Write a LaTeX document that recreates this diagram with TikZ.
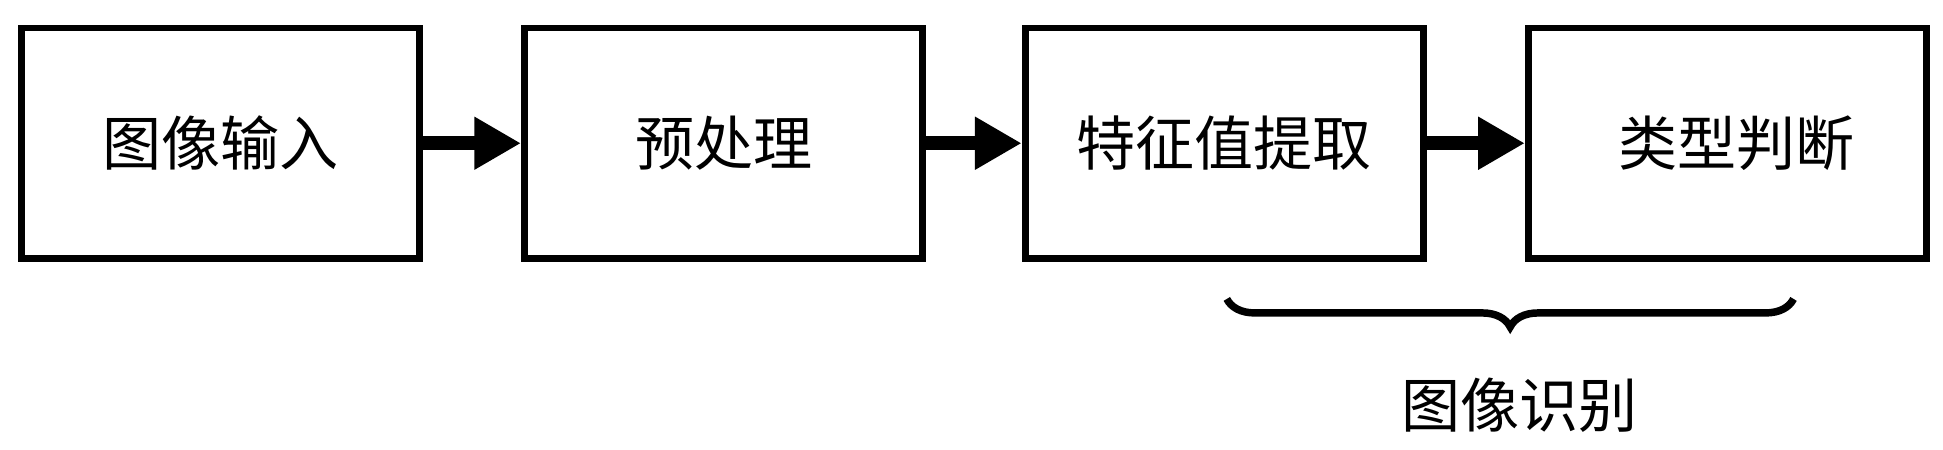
\documentclass[tikz,border=0pt]{standalone}
\usepackage{fontspec}
\newfontfamily\cjk{Noto Sans CJK SC}
\usetikzlibrary{arrows.meta,decorations.pathreplacing}
\begin{document}
\begin{tikzpicture}[x=0.02cm,y=-0.02cm,
  stepbox/.style={draw,line width=0.11cm,minimum width=6.4cm,minimum height=3.7cm,inner sep=0pt,font=\cjk\fontsize{27}{30}\selectfont},
  flow/.style={line width=0.22cm,-{Triangle[length=0.75cm,width=0.8cm]}}]
\useasboundingbox (0,0) rectangle (1560,361);
\node[stepbox] (a) at (177,115) {图像输入};
\node[stepbox] (b) at (581,115) {预处理};
\node[stepbox] (c) at (983,115) {特征值提取};
\node[stepbox] (d) at (1387,115) {\hspace*{0.3cm}类型判断};
\draw[flow] (a) -- (b);
\draw[flow] (b) -- (c);
\draw[flow] (c) -- (d);
\coordinate (bl) at (985,240);
\coordinate (br) at (1440,240);
\draw[line width=0.12cm,decorate,decoration={brace,mirror,amplitude=0.45cm}] (bl) -- (br);
\node[font=\cjk\fontsize{27}{30}\selectfont] (lab) at (1220,325) {图像识别};
\end{tikzpicture}
\end{document}
